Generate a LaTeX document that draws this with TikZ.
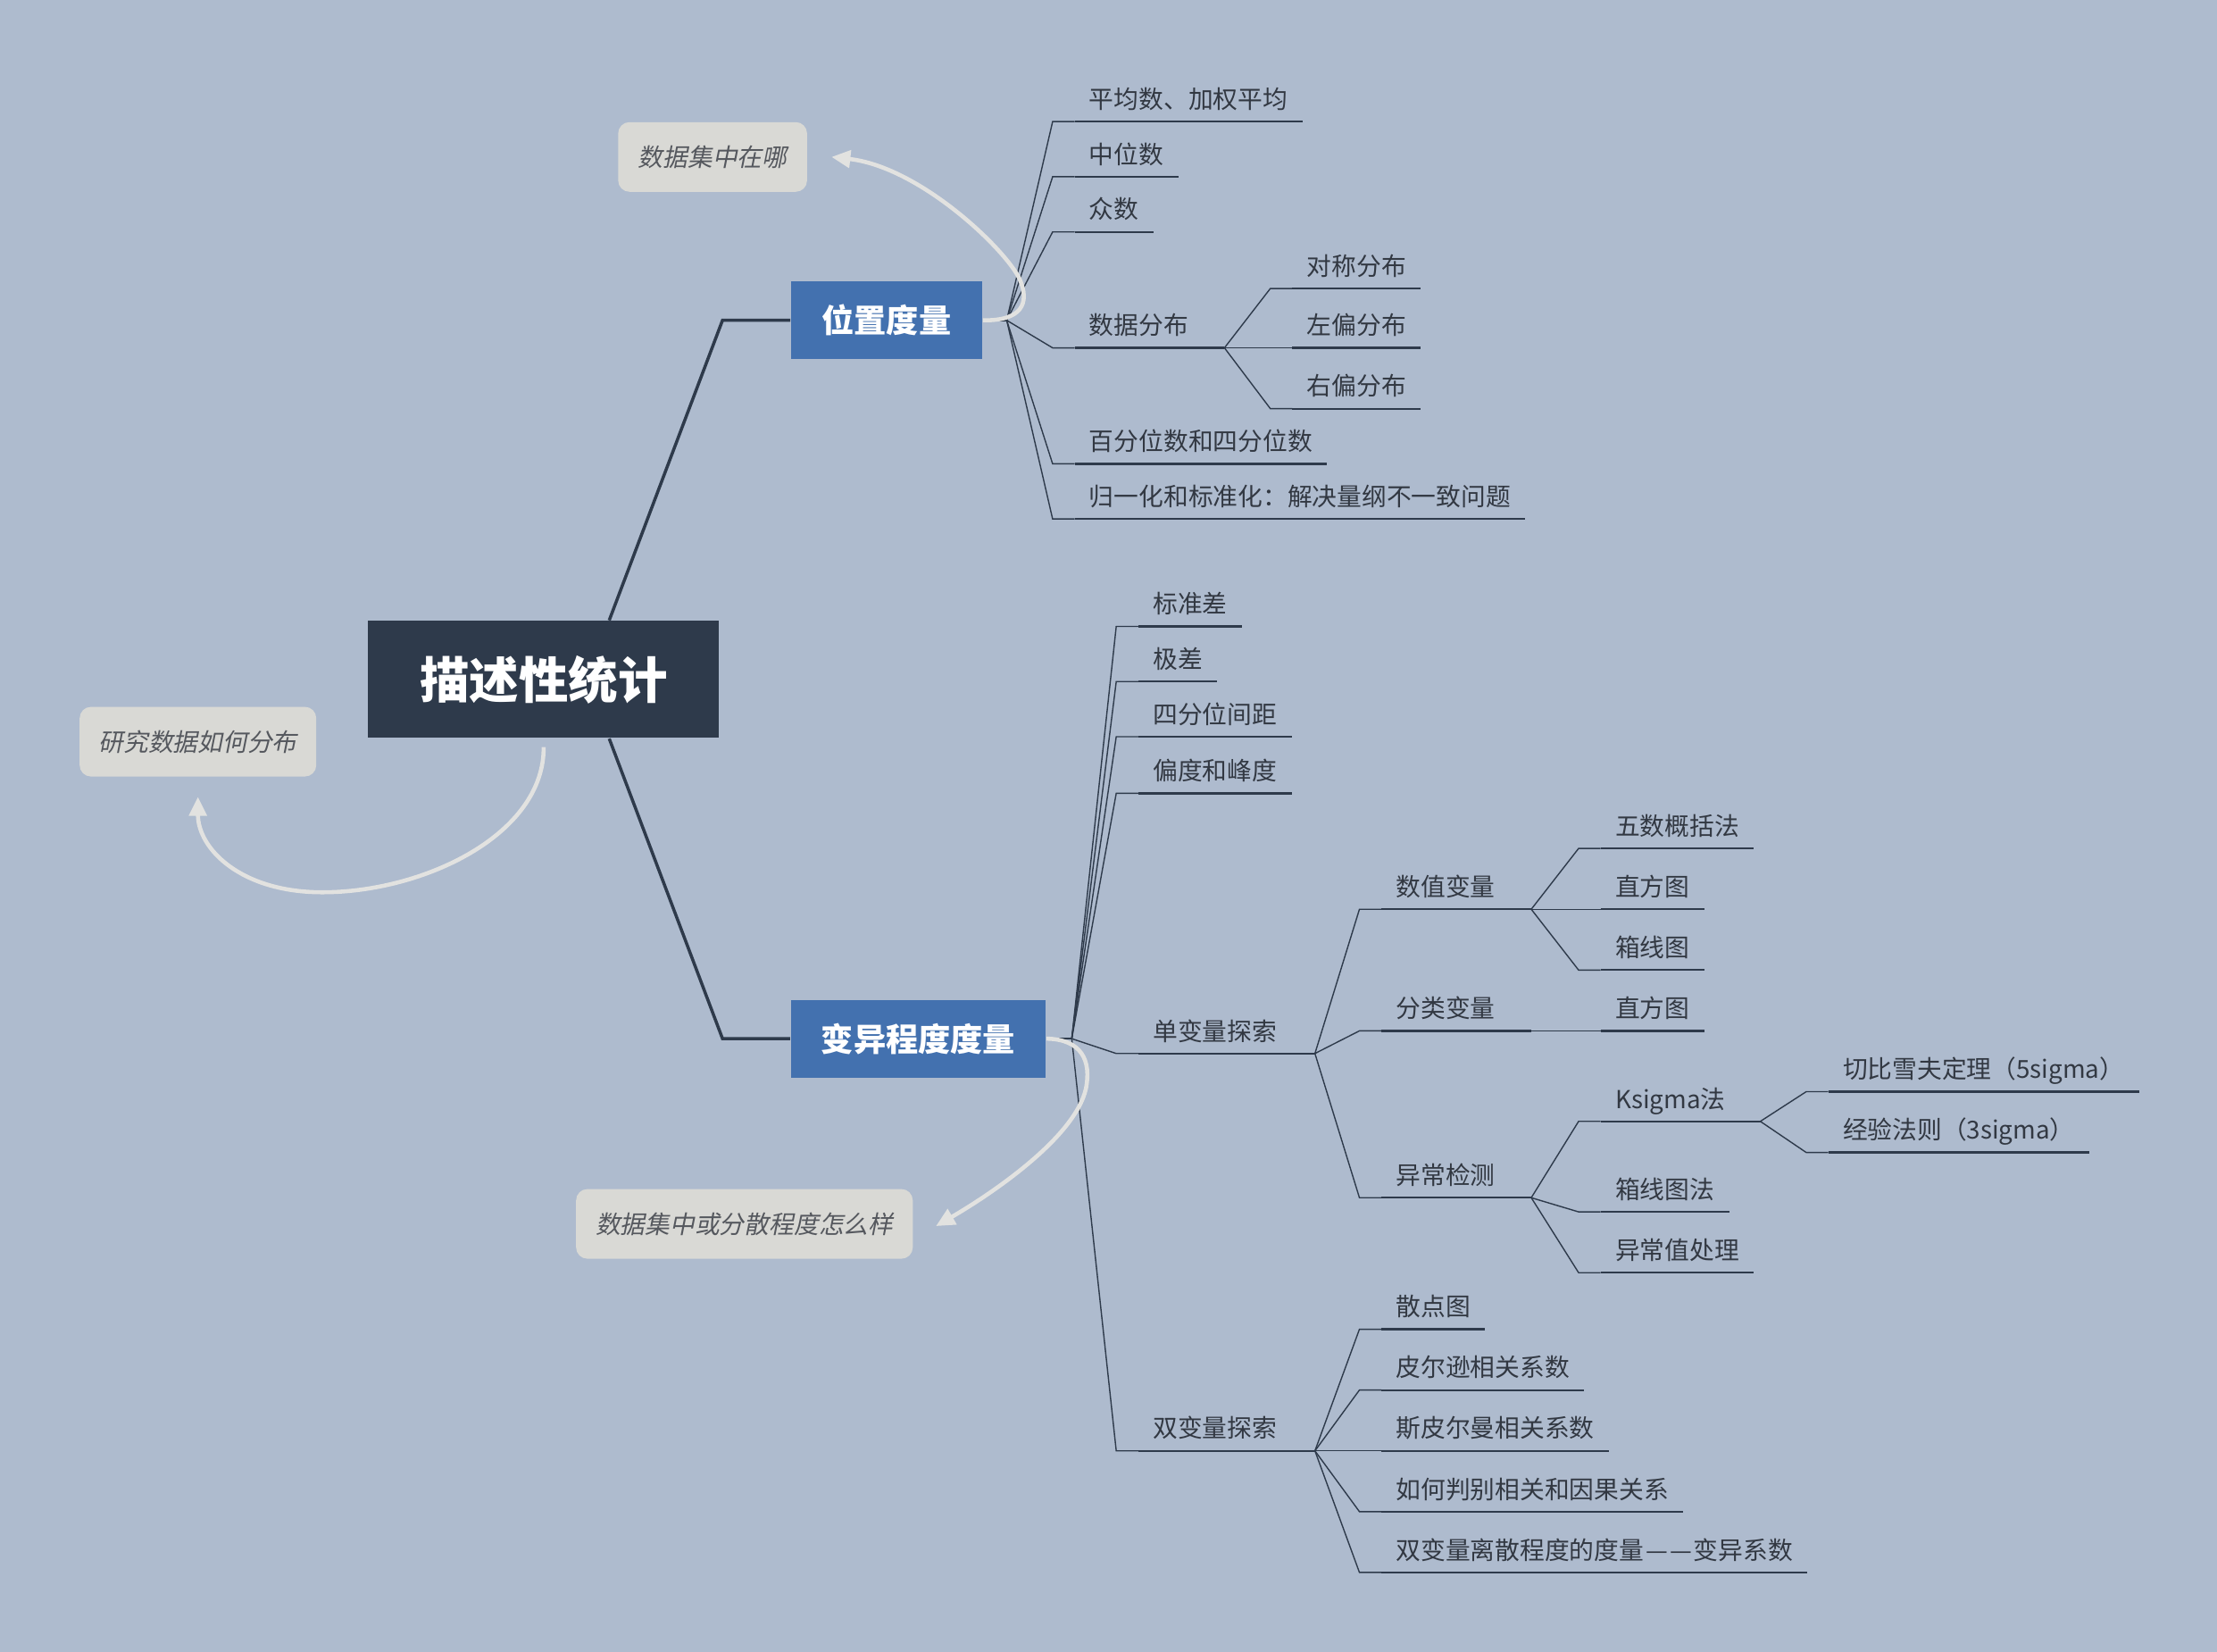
\documentclass[tikz,border=0pt]{standalone}
\usepackage{fontspec}
\setmainfont{Noto Sans CJK SC}
\newfontfamily\cjkit[FakeSlant=0.2]{Noto Sans CJK SC}
\usetikzlibrary{arrows.meta}
\definecolor{bgc}{RGB}{174,187,206}
\definecolor{linec}{RGB}{46,58,75}
\definecolor{txtc}{RGB}{50,56,66}
\definecolor{rootc}{RGB}{46,58,75}
\definecolor{bluec}{RGB}{67,113,175}
\definecolor{calc}{RGB}{217,217,213}
\definecolor{calt}{RGB}{85,88,94}
\definecolor{arrc}{RGB}{226,226,224}
\begin{document}
\begin{tikzpicture}[x=0.015835cm,y=-0.015835cm,
  leaf/.style={anchor=south west, inner xsep=4.49pt, inner ysep=4pt, text depth=0pt,
    font=\fontsize{7.9}{9}\selectfont, text=txtc},
  rootbox/.style={fill=rootc, text=white, minimum width=111.8pt, minimum height=37.3pt,
    inner sep=0pt, font=\fontsize{15.8}{18}\selectfont\bfseries},
  catbox/.style={fill=bluec, text=white, minimum height=24.7pt, inner sep=0pt,
    font=\fontsize{10.3}{12}\selectfont\bfseries},
  callout/.style={fill=calc, rounded corners=3.6pt, inner sep=0pt, minimum height=22.2pt,
    text=calt, font=\cjkit\fontsize{7.9}{9}\selectfont},
  mainconn/.style={draw=linec, line width=1pt},
  conn/.style={draw=linec, line width=0.4pt},
  uline/.style={draw=linec, line width=0.65pt},
  grarrow/.style={draw=arrc, line width=1.3pt, -{Triangle[length=6pt,width=5.5pt]}}
]
\fill[bgc] (0,0) rectangle (1568,1168);
\useasboundingbox (0,0) rectangle (1568,1168);

% main nodes
\node[rootbox] (root) at (384.5,480.5) {描述性统计};
\node[catbox, minimum width=61pt] (pos) at (627,226.5) {位置度量};
\node[catbox, minimum width=81.3pt] (var) at (649.5,734.5) {变异程度度量};

% callouts
\node[callout, minimum width=60.2pt] (nA) at (504,111) {数据集中在哪};
\node[callout, minimum width=75.4pt] (nB) at (140,524.5) {研究数据如何分布};
\node[callout, minimum width=107.3pt] (nC) at (526.5,865.5) {数据集中或分散程度怎么样};

% fan points
\coordinate (fp) at (712,226.5);
\coordinate (fd) at (866,246);
\coordinate (fv) at (758,734.5);
\coordinate (fu) at (930,745);
\coordinate (fb) at (930,1026);
\coordinate (fn) at (1083,643);
\coordinate (fc) at (1083,729);
\coordinate (fa) at (1083,847);
\coordinate (fk) at (1245,793);

% leaves
\node[leaf] (p1) at (760,86) {平均数、加权平均};
\node[leaf] (p2) at (760,125) {中位数};
\node[leaf] (p3) at (760,164) {众数};
\node[leaf] (p4) at (760,246) {数据分布};
\node[leaf] (p5) at (760,328) {百分位数和四分位数};
\node[leaf] (p6) at (760,367) {归一化和标准化：解决量纲不一致问题};
\node[leaf] (d1) at (914,204) {对称分布};
\node[leaf] (d2) at (914,246) {左偏分布};
\node[leaf] (d3) at (914,289) {右偏分布};
\node[leaf] (v1) at (805,443) {标准差};
\node[leaf] (v2) at (805,482) {极差};
\node[leaf] (v3) at (805,521) {四分位间距};
\node[leaf] (v4) at (805,561) {偏度和峰度};
\node[leaf] (v5) at (805,745) {单变量探索};
\node[leaf] (v6) at (805,1026) {双变量探索};
\node[leaf] (u1) at (977,643) {数值变量};
\node[leaf] (u2) at (977,729) {分类变量};
\node[leaf] (u3) at (977,847) {异常检测};
\node[leaf] (n1) at (1132,600) {五数概括法};
\node[leaf] (n2) at (1132,643) {直方图};
\node[leaf] (n3) at (1132,686) {箱线图};
\node[leaf] (e1) at (1132,729) {直方图};
\node[leaf] (a1) at (1132,793) {Ksigma法};
\node[leaf] (a2) at (1132,857) {箱线图法};
\node[leaf] (a3) at (1132,900) {异常值处理};
\node[leaf] (k1) at (1293,772) {切比雪夫定理（5sigma）};
\node[leaf] (k2) at (1293,815) {经验法则（3sigma）};
\node[leaf] (b1) at (977,940) {散点图};
\node[leaf] (b2) at (977,983) {皮尔逊相关系数};
\node[leaf] (b3) at (977,1026) {斯皮尔曼相关系数};
\node[leaf] (b4) at (977,1069) {如何判别相关和因果关系};
\node[leaf] (b5) at (977,1112) {双变量离散程度的度量\makebox[2em][c]{—\hspace{0.08em}—}变异系数};

% main connectors
\draw[mainconn] ([xshift=20.9pt]root.north) -- (511,226.5) -- (pos.west);
\draw[mainconn] ([xshift=20.9pt]root.south) -- (511,734.5) -- (var.west);
\draw[uline] (pos.east) -- (fp);
\draw[uline] (var.east) -- (fv);

% leaf connectors and underlines
\foreach \n/\f in {p1/fp,p2/fp,p3/fp,p5/fp,p6/fp,d1/fd,d2/fd,d3/fd,
  v1/fv,v2/fv,v3/fv,v4/fv,n1/fn,n2/fn,n3/fn,e1/fc,a2/fa,a3/fa,k1/fk,k2/fk,
  b1/fb,b2/fb,b3/fb,b4/fb,b5/fb}{
  \draw[conn] (\f) -- ([xshift=-7pt]\n.south west) -- (\n.south west);
  \draw[uline] (\n.south west) -- (\n.south east);
}
\foreach \n/\f/\g in {p4/fp/fd,v5/fv/fu,v6/fv/fb,u1/fu/fn,u2/fu/fc,u3/fu/fa,a1/fa/fk}{
  \draw[conn] (\f) -- ([xshift=-7pt]\n.south west) -- (\n.south west);
  \draw[uline] (\n.south west) -- (\g);
}

% callout arrows
\draw[grarrow] (pos.east) .. controls (722,227) and (729,215) .. (721,197)
  .. controls (710,175) and (650,118) .. ([xshift=7.6pt]nA.east);
\draw[grarrow] ([yshift=-2.7pt]root.south) .. controls (385,590) and (300,631) .. (228,631)
  .. controls (170,631) and (140,600) .. ([yshift=-6.3pt]nB.south);
\draw[grarrow] (var.east) .. controls (765,735) and (772,750) .. (768,770)
  .. controls (760,805) and (700,845) .. ([xshift=7.2pt,yshift=-0.7pt]nC.east);
\end{tikzpicture}
\end{document}
